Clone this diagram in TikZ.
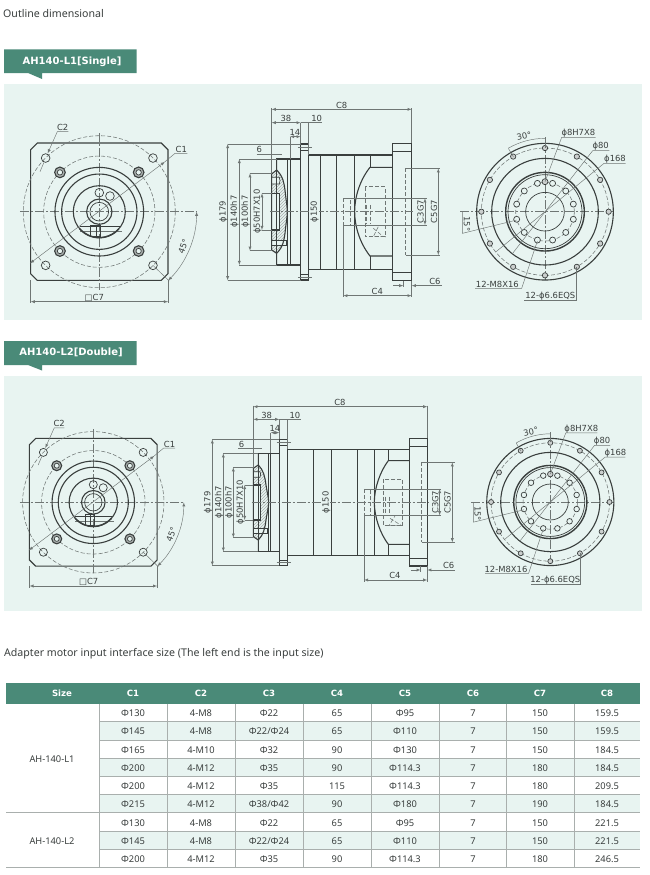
\documentclass[tikz,border=0pt]{standalone}
\usepackage{fontspec}
\setmainfont{Noto Sans}
\newfontfamily\dimfont{DejaVu Sans}
\usetikzlibrary{patterns}

\definecolor{teal}{HTML}{4A8A78}
\definecolor{panel}{HTML}{E8F4F1}
\definecolor{ink}{HTML}{3A3F3E}
\definecolor{dimline}{HTML}{6F7674}
\definecolor{rule}{HTML}{A9AFAD}

\tikzset{
    outline/.style={draw=ink, line width=1.1pt},
    medline/.style={draw=ink, line width=0.7pt},
    dimension/.style={draw=dimline, line width=0.45pt},
    dimarrow/.style={dimension, <->, >=latex},
    centerline/.style={draw=dimline, line width=0.45pt, dash pattern=on 9pt off 2pt on 2pt off 2pt},
    hidden/.style={draw=dimline, line width=0.55pt, dash pattern=on 4pt off 2pt},
    dimtext/.style={text=ink, inner sep=0pt, font=\dimfont\fontsize{8.4}{10}\selectfont},
    heading/.style={text=ink, anchor=west, inner sep=0pt, font=\fontsize{10.6}{13}\selectfont},
    tagtext/.style={text=white, inner sep=0pt, font=\dimfont\bfseries\fontsize{10}{12}\selectfont},
    headcell/.style={text=white, inner sep=0pt, font=\dimfont\bfseries\fontsize{8.6}{10}\selectfont},
    cell/.style={text=ink, inner sep=0pt, font=\fontsize{9.3}{10}\selectfont}
}

% square flange seen from the input side, units are 1/3 px at #3=.3333
\newcommand{\frontview}[3]{
    \begin{scope}[shift={(#1,#2)}, x=#3pt, y=-#3pt]
        \draw[outline] (-186,-206) -- (186,-206) -- (206,-186) -- (206,186) -- (186,206)
            -- (-186,206) -- (-206,186) -- (-206,-186) -- cycle;
        % centre lines and pitch circles
        \draw[centerline] (-238,0) -- (292,0);
        \draw[centerline] (0,-235) -- (0,235);
        \draw[hidden] (0,0) circle (228);
        \draw[hidden] (0,0) circle (167);
        % bolt holes
        \foreach \px/\py in {-161/-161, 161/-161, -161/161, 161/161}
            \draw[medline] (\px,\py) circle (13);
        \foreach \px/\py in {-118/-118, 118/-118, -118/118, 118/118} {
            \draw[outline, fill=rule] (\px,\py) circle (16);
            \draw[medline, fill=panel] (\px,\py) circle (8);
        }
        % pilot rings and shaft
        \draw[outline] (0,0) circle (133);
        \draw[outline] (0,0) circle (113);
        \draw[outline] (0,0) circle (78);
        \draw[outline] (0,0) circle (38);
        \draw[medline] (0,0) circle (28);
        \draw[medline] (0,-57) circle (13);
        \draw[medline] (32,-47) circle (13);
        % key
        \draw[medline] (-58,45) -- (62,45);
        \draw[dimension] (-58,60) -- (68,60);
        \draw[medline] (-26,40) rectangle (4,73);
        \draw[outline] (-8,40) -- (-8,73);
        \draw[outline, line width=1.5pt] (139:78) arc[start angle=139, end angle=41, radius=78];
        % leaders
        \draw[dimarrow] (-208,155) -- (197,-150);
        \draw[dimension] (197,-150) -- (227,-175) -- (264,-175);
        \draw[dimension, ->, >=latex] (-93,-240) -- (-126,-240) -- (-155,-175);
        \draw[dimension] (-178,-120) -- (-166,-148);
        \node[dimtext] (c1text#1) at (246,-187) {C1};
        \node[dimtext] (c2text#1) at (-110,-254) {C2};
        % 45 degree and C7
        \draw[dimension] (161,161) -- (210,208);
        \draw[dimarrow] (292,0) arc[start angle=0, end angle=45, radius=292];
        \node[dimtext, rotate=70] (angtext#1) at (252,105) {45°};
        \draw[dimension] (-206,206) -- (-206,275);
        \draw[dimension] (206,206) -- (206,275);
        \draw[dimarrow] (-206,270) -- (206,270);
        \node[dimtext] (c7text#1) at (-15,258) {□C7};
    \end{scope}
}

% output disc, units are 1/3 px at #3=.3333
\newcommand{\discview}[3]{
    \begin{scope}[shift={(#1,#2)}, x=#3pt, y=-#3pt]
        \draw[centerline] (-255,0) -- (205,0);
        \draw[centerline] (0,-215) -- (0,205);
        \draw[outline] (0,0) circle (205);
        \draw[hidden] (0,0) circle (191);
        \draw[outline] (0,0) circle (160);
        \draw[outline, line width=1.4pt] (0,0) circle (118);
        \draw[medline] (0,0) circle (111);
        \draw[hidden] (0,0) circle (88);
        \draw[medline] (0,0) circle (58);
        % outer and inner holes
        \foreach \ang in {0,30,...,330}
            \draw[medline, fill=rule!60] (\ang:191) circle (8);
        \foreach \ang in {15,45,...,345}
            \draw[medline, fill=panel] (\ang:88) circle (9);
        \draw[medline, fill=rule!60] (0,-90) circle (9);
        % 30 degree
        \draw[dimension] (-95,-165) -- (-110,-190);
        \draw[dimension] (0,-192) -- (0,-225);
        \draw[dimension] (0,-220) arc[start angle=-90, end angle=-120, radius=220];
        \node[dimtext, rotate=12] (a30#1) at (-63,-227) {30°};
        % 15 degree
        \draw[dimension] (-85,25) -- (-248,65) -- (-248,0);
        \node[dimtext, rotate=-90] (a15#1) at (-234,37) {15°};
        % leaders
        \draw[dimension] (0,-90) -- (50,-223) -- (152,-223);
        \draw[dimension] (-98,126) -- (143,-183) -- (193,-183);
        \draw[dimension] (-148,121) -- (177,-145) -- (242,-145);
        \draw[dimension] (-23,88) -- (-70,230) -- (-210,230);
        \draw[dimension] (95,165) -- (95,265) -- (-63,265);
        \node[dimtext] (d8#1) at (100,-235) {ϕ8H7X8};
        \node[dimtext] (d80#1) at (167,-197) {ϕ80};
        \node[dimtext] (d168#1) at (210,-157) {ϕ168};
        \node[dimtext] (m8#1) at (-143,219) {12-M8X16};
        \node[dimtext] (eqs#1) at (16,253) {12-ϕ6.6EQS};
    \end{scope}
}

\begin{document}
\begin{tikzpicture}[x=1pt, y=-1pt]
    \useasboundingbox (0,0) rectangle (650,875);
    \fill[white] (0,0) rectangle (650,875);

    % Headings
    \node[heading] (outlinetitle) at (3,14) {Outline dimensional};
    \node[heading] (adaptertitle) at (4,654) {Adapter motor input interface size (The left end is the input size)};

    % Panels and tags
    \fill[panel] (4,84) rectangle (642,319.5);
    \fill[panel] (4,376) rectangle (642,610.5);
    \fill[teal] (4,49.5) -- (136.6,49.5) -- (136.6,73) -- (42,73) -- (42,79) -- (28,73) -- (4,73) -- cycle;
    \fill[teal] (4,341) -- (136.6,341) -- (136.6,365) -- (42,365) -- (42,370.5) -- (28,365) -- (4,365) -- cycle;
    \node[tagtext] (tagsingle) at (72,61.5) {AH140-L1[Single]};
    \node[tagtext] (tagdouble) at (71,352.5) {AH140-L2[Double]};

    % Single: end views
    \frontview{99.3}{211.7}{.3333}
    \discview{545}{211.7}{.3333}

    % Single: side view
    \begin{scope}[shift={(210,90)}, x=.3333pt, y=-.3333pt]
        \fill[pattern=north east lines, pattern color=rule] (185,252) -- (200,240)
            .. controls (220,260) and (222,280) .. (225,300) .. controls (228,330) and (232,350) .. (232,365)
            .. controls (232,380) and (228,400) .. (225,430) .. controls (222,450) and (220,470) .. (200,490)
            -- (185,480) -- cycle;
        \fill[panel] (185,310) rectangle (208,420);
        \fill[panel] (185,262) rectangle (210,282);
        \fill[panel] (185,450) rectangle (230,465);
        \draw[outline] (185,310) -- (208,310) -- (208,420) -- (185,420);
        \draw[medline] (185,262) -- (208,262) -- (210,272) -- (208,282) -- (185,282);
        \draw[medline] (185,450) rectangle (230,465);
        \draw[outline] (200,207) -- (200,240) -- (185,252) -- (185,480) -- (200,490) -- (200,525);
        \draw[outline] (200,240) .. controls (220,260) and (222,280) .. (225,300)
            .. controls (228,330) and (232,350) .. (232,365)
            .. controls (232,380) and (228,400) .. (225,430)
            .. controls (222,450) and (220,470) .. (200,490);
        \draw[outline] (200,207) rectangle (272,525);
        \draw[outline] (232,207) -- (232,525);
        \draw[medline] (240,207) -- (240,525);
        % first flange
        \draw[outline] (272,162) rectangle (296,570);
        \draw[medline] (272,180) -- (296,180);
        \draw[medline] (272,553) -- (296,553);
        \draw[dimension] (264,172) -- (305,172);
        \draw[dimension] (264,562) -- (305,562);
        % body
        \draw[outline] (296,195) -- (548,195);
        \draw[outline] (296,538) -- (548,538);
        \draw[medline] (330,195) -- (330,538);
        \draw[outline, line width=1.3pt] (380,195) -- (380,538);
        \draw[outline, line width=1.3pt] (434,195) -- (434,538);
        \draw[medline] (480,195) -- (480,232);
        \draw[medline] (480,498) -- (480,538);
        \draw[outline] (548,232) -- (480,232) .. controls (450,270) and (434,320) .. (434,365)
            .. controls (434,410) and (450,460) .. (480,498) -- (548,498);
        % second flange
        \draw[outline] (548,160) rectangle (605,572);
        \draw[medline] (548,185) -- (605,185);
        \draw[medline] (548,547) -- (605,547);
        % hidden lines
        \draw[hidden] (400,325) rectangle (420,405);
        \draw[hidden] (465,290) rectangle (525,440);
        \draw[hidden] (470,345) -- (470,400);
        \draw[hidden] (482,345) -- (482,400);
        \draw[hidden] (490,415) -- (520,440) -- (490,440) -- (505,410);
        \draw[hidden] (587,235) -- (587,495);
        \draw[centerline] (180,365) -- (610,365);
        % dimensions on top
        \draw[dimension] (185,55) -- (185,252);
        \draw[dimension] (605,55) -- (605,160);
        \draw[dimarrow] (185,58) -- (605,58);
        \node[dimtext] (c8one) at (395,45) {C8};
        \draw[dimarrow] (185,98) -- (272,98);
        \draw[dimension] (272,98) -- (336,98);
        \draw[dimension] (272,98) -- (272,162);
        \draw[dimension] (296,98) -- (296,195);
        \node[dimtext] (d38one) at (228,85) {38};
        \node[dimtext] (d10one) at (320,85) {10};
        \draw[dimarrow] (240,140) -- (272,140);
        \draw[dimension] (240,140) -- (240,207);
        \node[dimtext] (d14one) at (255,127) {14};
        \draw[dimension] (140,192) -- (215,192);
        \node[dimtext] (d6one) at (148,179) {6};
        % dimensions on the left
        \draw[dimension] (53,162) -- (272,162);
        \draw[dimension] (53,571) -- (272,571);
        \draw[dimarrow] (53,162) -- (53,571);
        \node[dimtext, rotate=90] (d179one) at (40,365) {ϕ179};
        \draw[dimension] (88,207) -- (200,207);
        \draw[dimension] (88,525) -- (200,525);
        \draw[dimarrow] (88,207) -- (88,525);
        \node[dimtext, rotate=90] (d140one) at (74,365) {ϕ140h7};
        \draw[dimension] (120,250) -- (185,250);
        \draw[dimension] (120,482) -- (185,482);
        \draw[dimarrow] (120,250) -- (120,482);
        \node[dimtext, rotate=90] (d100one) at (107,365) {ϕ100h7};
        \draw[dimension] (156,310) -- (185,310);
        \draw[dimension] (156,420) -- (185,420);
        \draw[dimarrow] (156,310) -- (156,420);
        \node[dimtext, rotate=90] (d50one) at (143,365) {ϕ50H7X10};
        \node[dimtext, rotate=90, fill=panel] (d150one) at (314,365) {ϕ150};
        % dimensions on the right
        \draw[dimension] (400,325) -- (650,325);
        \draw[dimension] (400,405) -- (650,405);
        \draw[dimarrow] (645,325) -- (645,405);
        \node[dimtext, rotate=90] (c3one) at (632,365) {C3G7};
        \draw[dimension] (587,235) -- (690,235);
        \draw[dimension] (587,495) -- (690,495);
        \draw[dimarrow] (685,235) -- (685,495);
        \node[dimtext, rotate=90] (c5one) at (672,365) {C5G7};
        \draw[dimension] (580,572) -- (580,590);
        \draw[dimension, ->, >=latex] (550,587) -- (580,587);
        \draw[dimension, ->, >=latex] (695,587) -- (605,587);
        \node[dimtext] (c6one) at (675,573) {C6};
        \draw[dimension] (400,405) -- (400,622);
        \draw[dimension] (605,572) -- (605,622);
        \draw[dimarrow] (400,617) -- (605,617);
        \node[dimtext] (c4one) at (502,603) {C4};
    \end{scope}

    % Double: end views
    \frontview{93.3}{502.3}{.31}
    \discview{550.3}{502}{.31}

    % Double: side view
    \begin{scope}[shift={(210,390)}, x=.3333pt, y=-.3333pt]
        \fill[pattern=north east lines, pattern color=rule] (130,235) -- (145,225)
            .. controls (160,240) and (165,260) .. (168,285) .. controls (172,310) and (176,325) .. (176,337)
            .. controls (176,350) and (172,365) .. (168,390) .. controls (165,415) and (160,435) .. (145,450)
            -- (130,440) -- cycle;
        \fill[panel] (130,285) rectangle (152,390);
        \fill[panel] (130,245) rectangle (152,262);
        \fill[panel] (130,415) rectangle (172,430);
        \draw[outline] (130,285) -- (152,285) -- (152,390) -- (130,390);
        \draw[medline] (130,245) -- (150,245) -- (152,253) -- (150,262) -- (130,262);
        \draw[medline] (130,415) rectangle (172,430);
        \draw[outline] (145,190) -- (145,225) -- (130,235) -- (130,440) -- (145,450) -- (145,485);
        \draw[outline] (145,225) .. controls (160,240) and (165,260) .. (168,285)
            .. controls (172,310) and (176,325) .. (176,337)
            .. controls (176,350) and (172,365) .. (168,390)
            .. controls (165,415) and (160,435) .. (145,450);
        \draw[outline] (145,190) rectangle (208,485);
        \draw[outline] (175,190) -- (175,485);
        \draw[medline] (182,190) -- (182,485);
        % first flange
        \draw[outline] (208,148) rectangle (232,527);
        \draw[medline] (208,167) -- (232,167);
        \draw[medline] (208,510) -- (232,510);
        \draw[dimension] (200,158) -- (243,158);
        \draw[dimension] (200,518) -- (243,518);
        % body
        \draw[outline] (232,178) -- (598,178);
        \draw[outline] (232,497) -- (598,497);
        \draw[outline] (310,178) -- (310,497);
        \draw[medline] (364,178) -- (364,497);
        \draw[outline] (442,178) -- (442,497);
        \draw[outline] (493,178) -- (493,497);
        \draw[medline] (535,178) -- (535,212);
        \draw[medline] (535,463) -- (535,497);
        \draw[outline] (598,212) -- (535,212) .. controls (510,245) and (493,295) .. (493,337)
            .. controls (493,380) and (510,430) .. (535,463) -- (598,463);
        % second flange
        \draw[outline] (598,145) rectangle (652,528);
        \draw[medline] (598,170) -- (652,170);
        \draw[medline] (598,505) -- (652,505);
        % hidden lines
        \draw[hidden] (462,297) rectangle (482,376);
        \draw[hidden] (520,267) rectangle (578,407);
        \draw[hidden] (525,320) -- (525,372);
        \draw[hidden] (537,320) -- (537,372);
        \draw[hidden] (540,385) -- (575,407) -- (537,407) -- (555,378);
        \draw[hidden] (635,217) -- (635,457);
        \draw[centerline] (125,337) -- (658,337);
        % dimensions on top
        \draw[dimension] (130,47) -- (130,235);
        \draw[dimension] (652,47) -- (652,145);
        \draw[dimarrow] (130,50) -- (652,50);
        \node[dimtext] (c8two) at (390,38) {C8};
        \draw[dimarrow] (130,88) -- (208,88);
        \draw[dimension] (208,88) -- (272,88);
        \draw[dimension] (208,88) -- (208,148);
        \draw[dimension] (232,88) -- (232,178);
        \node[dimtext] (d38two) at (170,76) {38};
        \node[dimtext] (d10two) at (255,76) {10};
        \draw[dimarrow] (182,128) -- (208,128);
        \draw[dimension] (182,128) -- (182,190);
        \node[dimtext] (d14two) at (195,115) {14};
        \draw[dimension] (85,175) -- (155,175);
        \node[dimtext] (d6two) at (95,163) {6};
        % dimensions on the left
        \draw[dimension] (7,148) -- (208,148);
        \draw[dimension] (7,527) -- (208,527);
        \draw[dimarrow] (7,148) -- (7,527);
        \node[dimtext, rotate=90] (d179two) at (-6,337) {ϕ179};
        \draw[dimension] (40,190) -- (145,190);
        \draw[dimension] (40,485) -- (145,485);
        \draw[dimarrow] (40,190) -- (40,485);
        \node[dimtext, rotate=90] (d140two) at (27,337) {ϕ140h7};
        \draw[dimension] (70,232) -- (130,232);
        \draw[dimension] (70,443) -- (130,443);
        \draw[dimarrow] (70,232) -- (70,443);
        \node[dimtext, rotate=90] (d100two) at (58,337) {ϕ100h7};
        \draw[dimension] (104,285) -- (130,285);
        \draw[dimension] (104,390) -- (130,390);
        \draw[dimarrow] (104,285) -- (104,390);
        \node[dimtext, rotate=90] (d50two) at (92,337) {ϕ50H7X10};
        \node[dimtext, rotate=90, fill=panel] (d150two) at (349,337) {ϕ150};
        % dimensions on the right
        \draw[dimension] (462,297) -- (693,297);
        \draw[dimension] (462,376) -- (693,376);
        \draw[dimarrow] (689,297) -- (689,376);
        \node[dimtext, rotate=90] (c3two) at (676,337) {C3G7};
        \draw[dimension] (635,217) -- (735,217);
        \draw[dimension] (635,457) -- (735,457);
        \draw[dimarrow] (727,217) -- (727,457);
        \node[dimtext, rotate=90] (c5two) at (713,337) {C5G7};
        \draw[dimension] (632,528) -- (632,545);
        \draw[dimension, ->, >=latex] (603,540) -- (632,540);
        \draw[dimension, ->, >=latex] (735,540) -- (652,540);
        \node[dimtext] (c6two) at (716,527) {C6};
        \draw[dimension] (462,376) -- (462,575);
        \draw[dimension] (652,528) -- (652,575);
        \draw[dimarrow] (462,570) -- (652,570);
        \node[dimtext] (c4two) at (555,557) {C4};
    \end{scope}

    % Table header
    \fill[teal] (6,683.3) rectangle (640,703.7);
    \node[headcell] (hsize) at (62,693.5) {Size};
    \node[headcell] (hcone) at (133,693.5) {C1};
    \node[headcell] (hctwo) at (201,693.5) {C2};
    \node[headcell] (hcthree) at (269,693.5) {C3};
    \node[headcell] (hcfour) at (337,693.5) {C4};
    \node[headcell] (hcfive) at (405,693.5) {C5};
    \node[headcell] (hcsix) at (473,693.5) {C6};
    \node[headcell] (hcseven) at (540,693.5) {C7};
    \node[headcell] (hceight) at (607,693.5) {C8};

    % Table striped rows
    \fill[panel] (99.3,721.7) rectangle (640,740);
    \fill[panel] (99.3,758.3) rectangle (640,776.7);
    \fill[panel] (99.3,794.3) rectangle (640,812.7);
    \fill[panel] (99.3,831) rectangle (640,849.3);

    % Table rules
    \foreach \rowy in {721.7,740,758.3,776.7,794.3,831,849.3}
        \draw[rule, line width=0.5pt] (99.3,\rowy) -- (640,\rowy);
    \draw[rule, line width=0.5pt] (6,812.7) -- (640,812.7);
    \draw[rule, line width=0.5pt] (6,867.7) -- (640,867.7);
    \foreach \colx in {99.3,167.3,235.3,303.3,371,439,506.7,574.3}
        \draw[rule, line width=0.5pt] (\colx,703.7) -- (\colx,867.7);

    % Table cells
    \node[cell] (sizeone) at (52,759) {AH-140-L1};
    \node[cell] (sizetwo) at (52,841) {AH-140-L2};
    \foreach \rowno/\va/\vb/\vc/\vd/\ve/\vg/\vh in {
        1/Φ130/4-M8/Φ22/65/Φ95/150/159.5,
        2/Φ145/4-M8/Φ22\slash Φ24/65/Φ110/150/159.5,
        3/Φ165/4-M10/Φ32/90/Φ130/150/184.5,
        4/Φ200/4-M12/Φ35/90/Φ114.3/180/184.5,
        5/Φ200/4-M12/Φ35/115/Φ114.3/180/209.5,
        6/Φ215/4-M12/Φ38\slash Φ42/90/Φ180/190/184.5,
        7/Φ130/4-M8/Φ22/65/Φ95/150/221.5,
        8/Φ145/4-M8/Φ22\slash Φ24/65/Φ110/150/221.5,
        9/Φ200/4-M12/Φ35/90/Φ114.3/180/246.5} {
        \node[cell] (ca\rowno) at (133,{695+18.25*\rowno}) {\va};
        \node[cell] (cb\rowno) at (201,{695+18.25*\rowno}) {\vb};
        \node[cell] (cc\rowno) at (269,{695+18.25*\rowno}) {\vc};
        \node[cell] (cd\rowno) at (337,{695+18.25*\rowno}) {\vd};
        \node[cell] (ce\rowno) at (405,{695+18.25*\rowno}) {\ve};
        \node[cell] (cf\rowno) at (473,{695+18.25*\rowno}) {7};
        \node[cell] (cg\rowno) at (540,{695+18.25*\rowno}) {\vg};
        \node[cell] (ch\rowno) at (607,{695+18.25*\rowno}) {\vh};
    }
\end{tikzpicture}
\end{document}
